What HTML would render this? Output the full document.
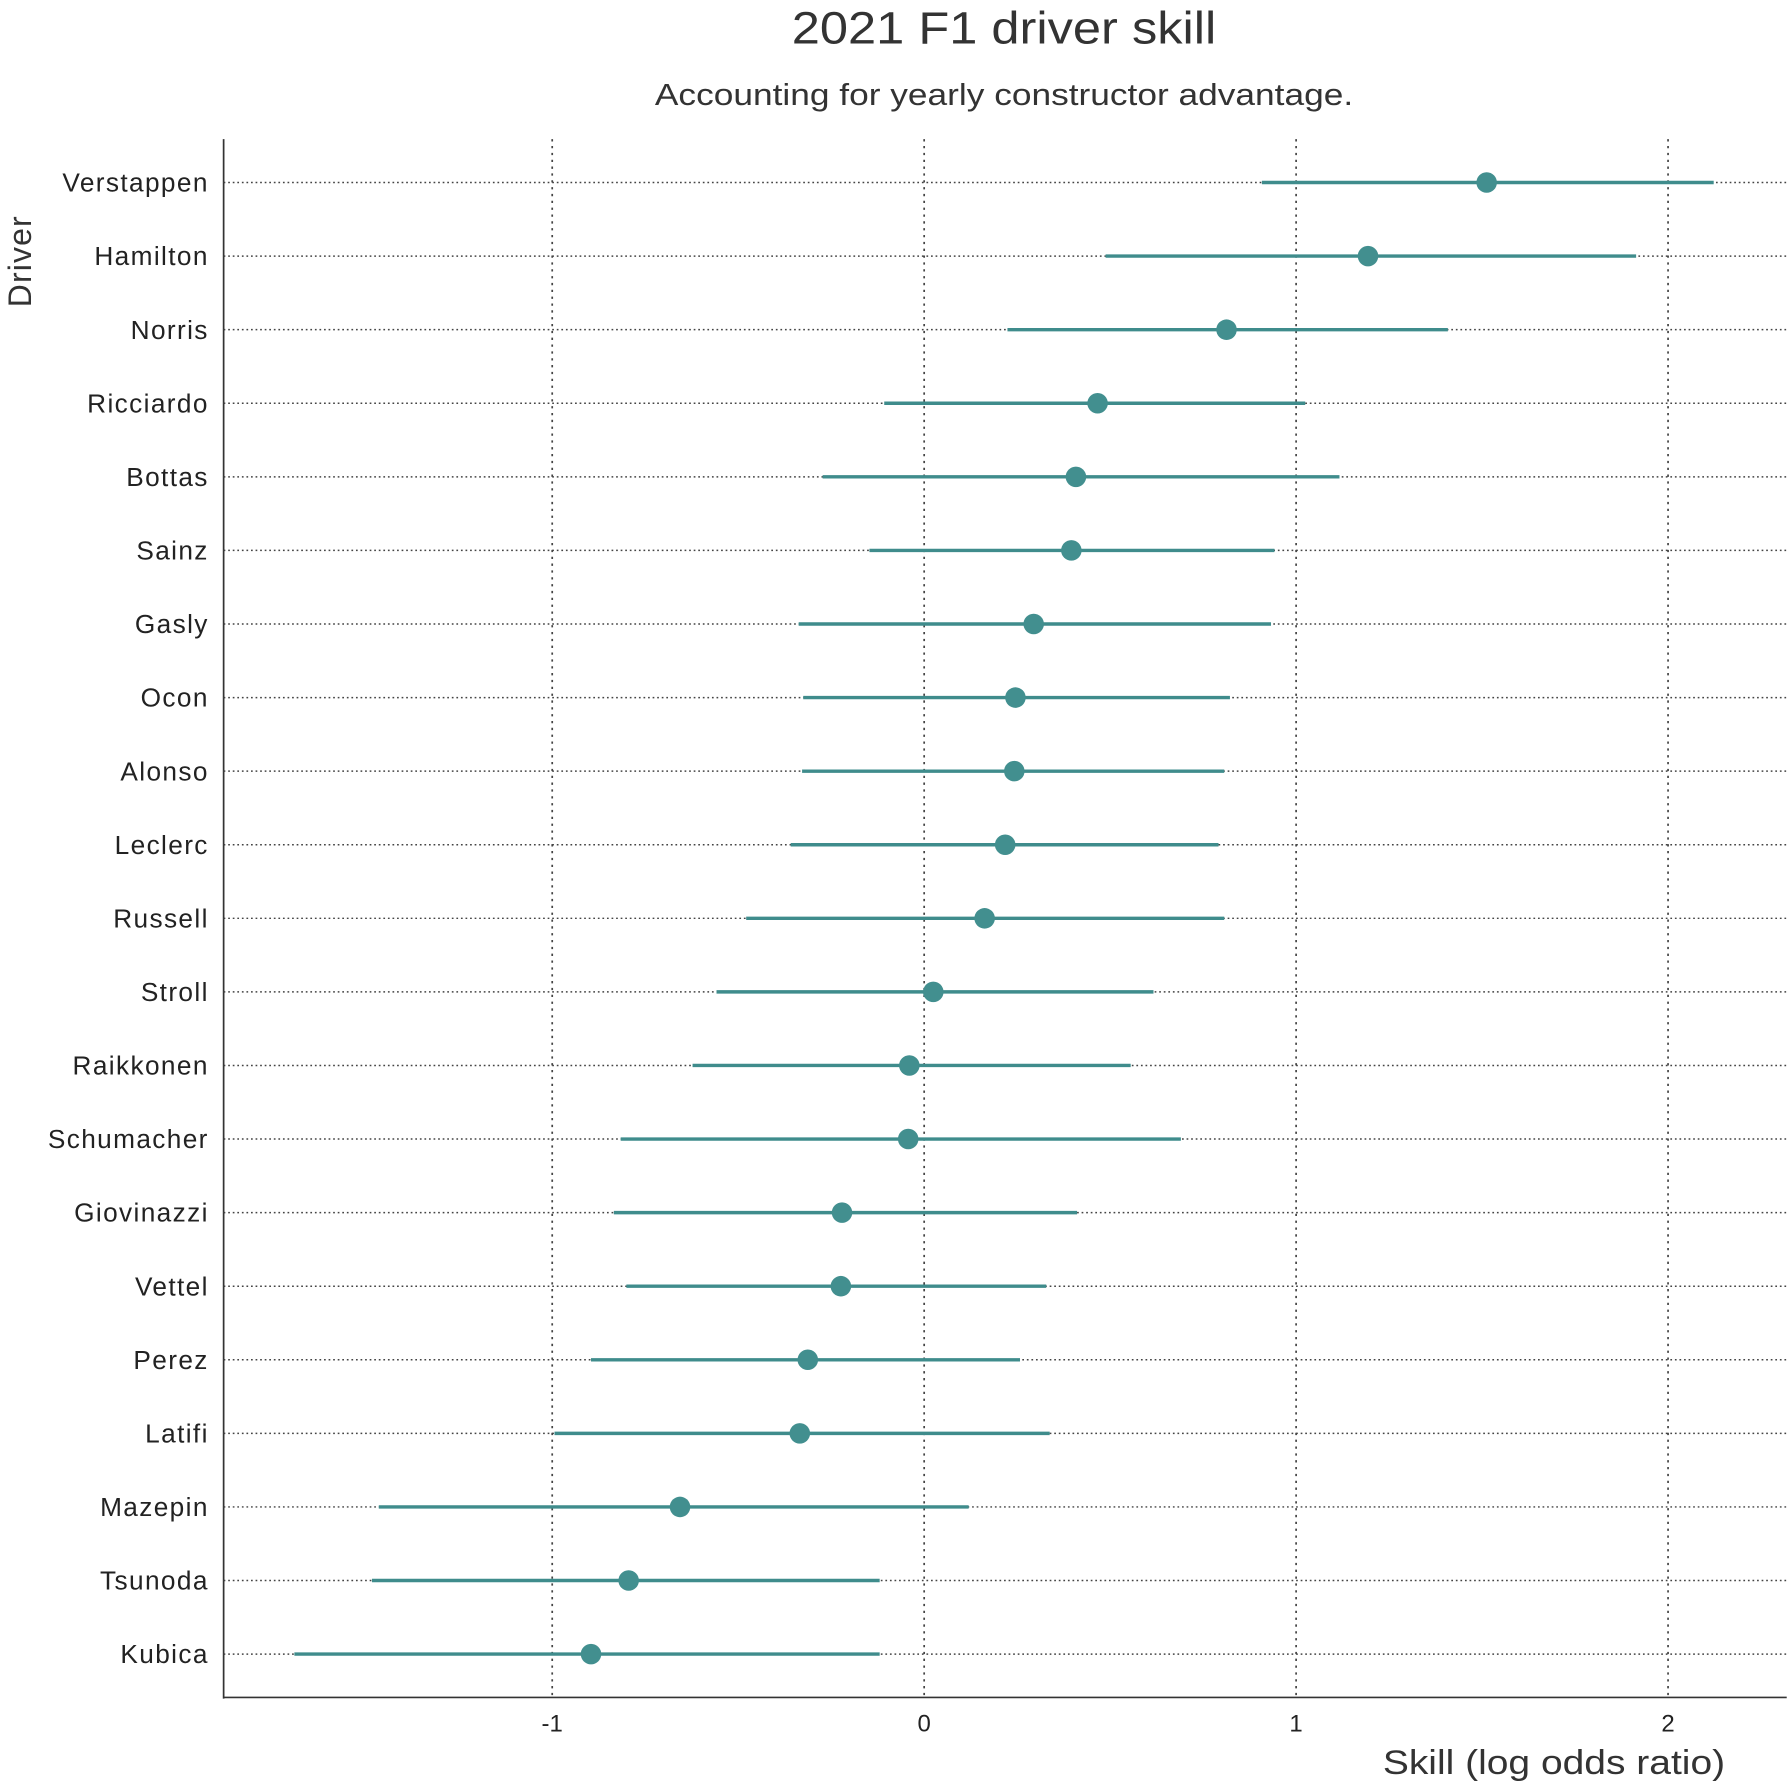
<!DOCTYPE html>
<html><head><meta charset="utf-8"><style>html,body{margin:0;padding:0;background:#fff}svg{display:block}</style></head>
<body>
<svg width="1789" height="1783" viewBox="0 0 1568 1563" preserveAspectRatio="none" xmlns="http://www.w3.org/2000/svg" font-family="'Liberation Sans', sans-serif">
<rect width="1568" height="1563" fill="#fff"/>
<text x="880" y="38" font-size="40" fill="#333" text-anchor="middle" textLength="372" lengthAdjust="spacingAndGlyphs">2021 F1 driver skill</text>
<text x="880" y="92" font-size="27" fill="#333" text-anchor="middle" textLength="612" lengthAdjust="spacingAndGlyphs">Accounting for yearly constructor advantage.</text>
<text transform="translate(27,229) rotate(-90)" font-size="28" fill="#333" text-anchor="middle" letter-spacing="1">Driver</text>
<g stroke="#444" stroke-width="1.5" stroke-dasharray="2,4">
<line x1="484" y1="122" x2="484" y2="1488"/><line x1="810" y1="122" x2="810" y2="1488"/><line x1="1136" y1="122" x2="1136" y2="1488"/><line x1="1462" y1="122" x2="1462" y2="1488"/>
</g>
<line x1="196" y1="122" x2="196" y2="1489" stroke="#333" stroke-width="1.5"/>
<line x1="196" y1="1488" x2="1566" y2="1488" stroke="#333" stroke-width="1.5"/>
<g font-size="21" fill="#222" text-anchor="middle">
<text x="484" y="1518">-1</text><text x="810" y="1518">0</text><text x="1136" y="1518">1</text><text x="1462" y="1518">2</text>
</g>
<text x="1512" y="1555" font-size="30" fill="#333" text-anchor="end" textLength="300" lengthAdjust="spacingAndGlyphs">Skill (log odds ratio)</text>
<g font-size="23" fill="#222" text-anchor="end" letter-spacing="1.2">
<g stroke="#444" stroke-width="1.3" stroke-dasharray="1.5,2.5">
<line x1="196" y1="160" x2="1566" y2="160"/><line x1="196" y1="224.5" x2="1566" y2="224.5"/><line x1="196" y1="289" x2="1566" y2="289"/><line x1="196" y1="353.5" x2="1566" y2="353.5"/><line x1="196" y1="418" x2="1566" y2="418"/><line x1="196" y1="482.5" x2="1566" y2="482.5"/><line x1="196" y1="547" x2="1566" y2="547"/><line x1="196" y1="611.5" x2="1566" y2="611.5"/><line x1="196" y1="676" x2="1566" y2="676"/><line x1="196" y1="740.5" x2="1566" y2="740.5"/><line x1="196" y1="805" x2="1566" y2="805"/><line x1="196" y1="869.5" x2="1566" y2="869.5"/><line x1="196" y1="934" x2="1566" y2="934"/><line x1="196" y1="998.5" x2="1566" y2="998.5"/><line x1="196" y1="1063" x2="1566" y2="1063"/><line x1="196" y1="1127.5" x2="1566" y2="1127.5"/><line x1="196" y1="1192" x2="1566" y2="1192"/><line x1="196" y1="1256.5" x2="1566" y2="1256.5"/><line x1="196" y1="1321" x2="1566" y2="1321"/><line x1="196" y1="1385.5" x2="1566" y2="1385.5"/><line x1="196" y1="1450" x2="1566" y2="1450"/>
</g>
<g stroke="#3f8c8c" stroke-width="3">
<line x1="1106" y1="160" x2="1502" y2="160"/><line x1="969" y1="224.5" x2="1434" y2="224.5"/><line x1="883" y1="289" x2="1269" y2="289"/><line x1="775" y1="353.5" x2="1144" y2="353.5"/><line x1="721" y1="418" x2="1174" y2="418"/><line x1="762" y1="482.5" x2="1117" y2="482.5"/><line x1="700" y1="547" x2="1114" y2="547"/><line x1="704" y1="611.5" x2="1078" y2="611.5"/><line x1="703" y1="676" x2="1073" y2="676"/><line x1="693" y1="740.5" x2="1068" y2="740.5"/><line x1="654" y1="805" x2="1073" y2="805"/><line x1="628" y1="869.5" x2="1011" y2="869.5"/><line x1="607" y1="934" x2="991" y2="934"/><line x1="544" y1="998.5" x2="1035" y2="998.5"/><line x1="538" y1="1063" x2="944" y2="1063"/><line x1="549" y1="1127.5" x2="917" y2="1127.5"/><line x1="518" y1="1192" x2="894" y2="1192"/><line x1="486" y1="1256.5" x2="920" y2="1256.5"/><line x1="332" y1="1321" x2="849" y2="1321"/><line x1="326" y1="1385.5" x2="771" y2="1385.5"/><line x1="258" y1="1450" x2="771" y2="1450"/>
</g>
<g fill="#428f8f">
<circle cx="1303" cy="160" r="9"/><circle cx="1199" cy="224.5" r="9"/><circle cx="1075" cy="289" r="9"/><circle cx="962" cy="353.5" r="9"/><circle cx="943" cy="418" r="9"/><circle cx="939" cy="482.5" r="9"/><circle cx="906" cy="547" r="9"/><circle cx="890" cy="611.5" r="9"/><circle cx="889" cy="676" r="9"/><circle cx="881" cy="740.5" r="9"/><circle cx="863" cy="805" r="9"/><circle cx="818" cy="869.5" r="9"/><circle cx="797" cy="934" r="9"/><circle cx="796" cy="998.5" r="9"/><circle cx="738" cy="1063" r="9"/><circle cx="737" cy="1127.5" r="9"/><circle cx="708" cy="1192" r="9"/><circle cx="701" cy="1256.5" r="9"/><circle cx="596" cy="1321" r="9"/><circle cx="551" cy="1385.5" r="9"/><circle cx="518" cy="1450" r="9"/>
</g>
<text x="183" y="168">Verstappen</text><text x="183" y="232.5">Hamilton</text><text x="183" y="297">Norris</text><text x="183" y="361.5">Ricciardo</text><text x="183" y="426">Bottas</text><text x="183" y="490.5">Sainz</text><text x="183" y="555">Gasly</text><text x="183" y="619.5">Ocon</text><text x="183" y="684">Alonso</text><text x="183" y="748.5">Leclerc</text><text x="183" y="813">Russell</text><text x="183" y="877.5">Stroll</text><text x="183" y="942">Raikkonen</text><text x="183" y="1006.5">Schumacher</text><text x="183" y="1071">Giovinazzi</text><text x="183" y="1135.5">Vettel</text><text x="183" y="1200">Perez</text><text x="183" y="1264.5">Latifi</text><text x="183" y="1329">Mazepin</text><text x="183" y="1393.5">Tsunoda</text><text x="183" y="1458">Kubica</text>
</g>
</svg>
</body></html>
